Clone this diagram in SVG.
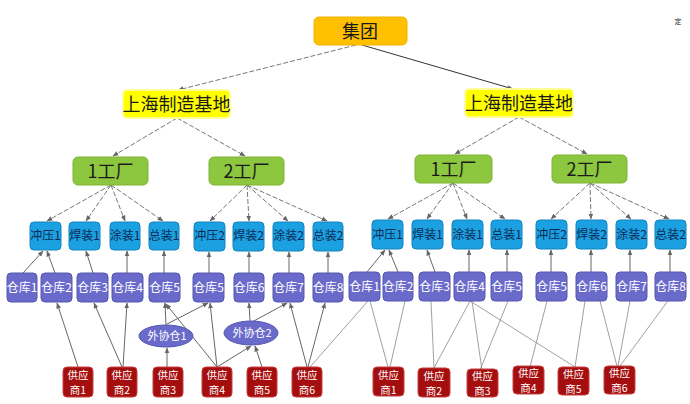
<svg xmlns="http://www.w3.org/2000/svg" width="690" height="404" viewBox="0 0 690 404">
<style>
.cjk{font-family:"Noto Sans CJK SC","Noto Sans",sans-serif}
.grp rect{fill:#FFC000;stroke:#F0B000;stroke-width:1}
.base rect{fill:#FFFF00;stroke:#FFFF99;stroke-width:2}
.fac rect{fill:#8DC63F;stroke:#7DB535;stroke-width:1}
.st rect{fill:#1BA1E2;stroke:#1383BD;stroke-width:1}
.wh rect,.wh ellipse{fill:#6A6ACB;stroke:#5656B0;stroke-width:1}
.sp rect{fill:#A50E0E;stroke:#C84040;stroke-width:1}
.t-dark{fill:#1a1a1a;text-anchor:middle}
.t-st{fill:#0D2A55;text-anchor:middle;font-size:12px}
.t-w{fill:#ffffff;text-anchor:middle;font-size:12px}
.t-s{fill:#ffffff;text-anchor:middle;font-size:11px}
.t-p{fill:#ffffff;text-anchor:middle;font-size:10.5px}
.dash{stroke:#777;stroke-width:1;fill:none;stroke-dasharray:5 2;marker-end:url(#ah)}
.sol{stroke:#666;stroke-width:1;fill:none;marker-end:url(#ah)}
.thin{stroke:#888;stroke-width:0.8;fill:none}
</style>
<defs>
<marker id="ah" viewBox="0 0 10 10" refX="9" refY="5" markerWidth="6" markerHeight="6" orient="auto" markerUnits="userSpaceOnUse">
<path d="M0,1 L10,5 L0,9 z" fill="#666"/>
</marker>
</defs>
<rect width="690" height="404" fill="#ffffff"/>

<g id="connectors">
<line class="dash" x1="356" y1="45" x2="178" y2="90"/>
<line class="sol" x1="362" y1="45" x2="513" y2="89" style="stroke:#333"/>
<line class="dash" x1="177" y1="118" x2="113" y2="156"/>
<line class="dash" x1="177" y1="118" x2="245" y2="156"/>
<line class="dash" x1="519" y1="117" x2="455" y2="154"/>
<line class="dash" x1="519" y1="117" x2="587" y2="154"/>
<line class="dash" x1="111" y1="185" x2="47" y2="221"/>
<line class="dash" x1="111" y1="185" x2="86" y2="221"/>
<line class="dash" x1="111" y1="185" x2="125" y2="221"/>
<line class="dash" x1="111" y1="185" x2="163" y2="221"/>
<line class="dash" x1="247" y1="185" x2="210" y2="221"/>
<line class="dash" x1="247" y1="185" x2="249" y2="221"/>
<line class="dash" x1="247" y1="185" x2="288" y2="221"/>
<line class="dash" x1="247" y1="185" x2="327" y2="221"/>
<line class="dash" x1="453" y1="183" x2="388" y2="219"/>
<line class="dash" x1="453" y1="183" x2="427" y2="219"/>
<line class="dash" x1="453" y1="183" x2="467" y2="219"/>
<line class="dash" x1="453" y1="183" x2="505" y2="219"/>
<line class="dash" x1="590" y1="183" x2="551" y2="219"/>
<line class="dash" x1="590" y1="183" x2="591" y2="219"/>
<line class="dash" x1="590" y1="183" x2="631" y2="219"/>
<line class="dash" x1="590" y1="183" x2="669" y2="219"/>

<line class="sol" x1="23" y1="273" x2="43" y2="251"/>
<line class="sol" x1="55" y1="273" x2="47" y2="251"/>
<line class="sol" x1="93" y1="273" x2="86" y2="251"/>
<line class="sol" x1="127" y1="273" x2="127" y2="251"/>
<line class="sol" x1="164" y1="273" x2="164" y2="251"/>
<line class="sol" x1="209" y1="273" x2="209" y2="252"/>
<line class="sol" x1="249" y1="273" x2="249" y2="252"/>
<line class="sol" x1="289" y1="273" x2="289" y2="252"/>
<line class="sol" x1="328" y1="273" x2="328" y2="252"/>
<line class="sol" x1="367" y1="272" x2="385" y2="250"/>
<line class="sol" x1="398" y1="272" x2="389" y2="250"/>
<line class="sol" x1="435" y1="272" x2="427" y2="250"/>
<line class="sol" x1="469" y1="272" x2="469" y2="250"/>
<line class="sol" x1="507" y1="272" x2="507" y2="250"/>
<line class="sol" x1="551" y1="272" x2="551" y2="250"/>
<line class="sol" x1="591" y1="272" x2="591" y2="250"/>
<line class="sol" x1="630" y1="272" x2="630" y2="250"/>
<line class="sol" x1="670" y1="272" x2="670" y2="250"/>

<line class="sol" x1="78" y1="367" x2="57" y2="303"/>
<line class="sol" x1="122" y1="367" x2="94" y2="303"/>
<line class="sol" x1="123" y1="367" x2="127" y2="303"/>
<line class="sol" x1="167" y1="367" x2="167" y2="348"/>
<line class="sol" x1="166" y1="325" x2="165" y2="303"/>
<line class="sol" x1="167" y1="324" x2="208" y2="303"/>
<line class="sol" x1="217" y1="367" x2="166" y2="304"/>
<line class="sol" x1="217" y1="367" x2="210" y2="303"/>
<line class="sol" x1="217" y1="367" x2="251" y2="346"/>
<line class="sol" x1="262" y1="367" x2="255" y2="346"/>
<line class="sol" x1="250" y1="321" x2="249" y2="303"/>
<line class="sol" x1="252" y1="322" x2="287" y2="303"/>
<line class="sol" x1="307" y1="367" x2="290" y2="303"/>
<line class="sol" x1="308" y1="367" x2="325" y2="303"/>
<line class="thin" x1="310" y1="367" x2="368" y2="301"/>

<line class="thin" x1="388" y1="367" x2="370" y2="301"/>
<line class="thin" x1="390" y1="367" x2="405" y2="301"/>
<line class="thin" x1="434" y1="368" x2="431" y2="301"/>
<line class="thin" x1="434" y1="368" x2="470" y2="301"/>
<line class="thin" x1="482" y1="370" x2="472" y2="301"/>
<line class="thin" x1="480" y1="370" x2="508" y2="301"/>
<line class="thin" x1="470" y1="301" x2="575" y2="367"/>
<line class="thin" x1="530" y1="367" x2="547" y2="301"/>
<line class="thin" x1="575" y1="367" x2="585" y2="301"/>
<line class="thin" x1="617" y1="366" x2="600" y2="301"/>
<line class="thin" x1="618" y1="366" x2="630" y2="301"/>
<line class="thin" x1="620" y1="366" x2="670" y2="298"/>
</g>

<g id="n-jituan" class="grp"><rect x="314" y="17" width="93" height="28" rx="5"/><text class="cjk t-dark" x="360" y="38" font-size="18">集团</text></g>

<g id="n-base-l" class="base"><rect x="123" y="90" width="107" height="28" rx="4"/><text class="cjk t-dark" x="176.5" y="111" font-size="18">上海制造基地</text></g>
<g id="n-base-r" class="base"><rect x="465" y="89" width="108" height="28" rx="4"/><text class="cjk t-dark" x="519" y="110" font-size="18">上海制造基地</text></g>

<g id="n-f1-l" class="fac"><rect x="73" y="157" width="75" height="28" rx="5"/><text class="cjk t-dark" x="110.5" y="178" font-size="18">1工厂</text></g>
<g id="n-f2-l" class="fac"><rect x="209" y="157" width="75" height="28" rx="5"/><text class="cjk t-dark" x="246.5" y="178" font-size="18">2工厂</text></g>
<g id="n-f1-r" class="fac"><rect x="415" y="155" width="77" height="28" rx="5"/><text class="cjk t-dark" x="453.5" y="176" font-size="18">1工厂</text></g>
<g id="n-f2-r" class="fac"><rect x="552" y="155" width="75" height="28" rx="5"/><text class="cjk t-dark" x="589.5" y="176" font-size="18">2工厂</text></g>

<g id="n-cy1-l" class="st"><rect x="30" y="222" width="31" height="28" rx="4"/><text class="cjk t-st" x="45.5" y="240">冲压1</text></g>
<g id="n-hz1-l" class="st"><rect x="69" y="222" width="31" height="28" rx="4"/><text class="cjk t-st" x="84.5" y="240">焊装1</text></g>
<g id="n-tz1-l" class="st"><rect x="110" y="222" width="30" height="28" rx="4"/><text class="cjk t-st" x="125" y="240">涂装1</text></g>
<g id="n-zz1-l" class="st"><rect x="149" y="222" width="30" height="28" rx="4"/><text class="cjk t-st" x="164" y="240">总装1</text></g>
<g id="n-cy2-l" class="st"><rect x="194" y="222" width="31" height="29" rx="4"/><text class="cjk t-st" x="209.5" y="240">冲压2</text></g>
<g id="n-hz2-l" class="st"><rect x="233" y="222" width="31" height="29" rx="4"/><text class="cjk t-st" x="248.5" y="240">焊装2</text></g>
<g id="n-tz2-l" class="st"><rect x="273" y="222" width="31" height="29" rx="4"/><text class="cjk t-st" x="288.5" y="240">涂装2</text></g>
<g id="n-zz2-l" class="st"><rect x="313" y="222" width="30" height="29" rx="4"/><text class="cjk t-st" x="328" y="240">总装2</text></g>

<g id="n-cy1-r" class="st"><rect x="372" y="220" width="31" height="29" rx="4"/><text class="cjk t-st" x="387.5" y="239">冲压1</text></g>
<g id="n-hz1-r" class="st"><rect x="412" y="220" width="31" height="29" rx="4"/><text class="cjk t-st" x="427.5" y="239">焊装1</text></g>
<g id="n-tz1-r" class="st"><rect x="452" y="220" width="31" height="29" rx="4"/><text class="cjk t-st" x="467.5" y="239">涂装1</text></g>
<g id="n-zz1-r" class="st"><rect x="491" y="220" width="31" height="29" rx="4"/><text class="cjk t-st" x="506.5" y="239">总装1</text></g>
<g id="n-cy2-r" class="st"><rect x="536" y="220" width="31" height="29" rx="4"/><text class="cjk t-st" x="551.5" y="239">冲压2</text></g>
<g id="n-hz2-r" class="st"><rect x="576" y="220" width="31" height="29" rx="4"/><text class="cjk t-st" x="591.5" y="239">焊装2</text></g>
<g id="n-tz2-r" class="st"><rect x="616" y="220" width="31" height="29" rx="4"/><text class="cjk t-st" x="631.5" y="239">涂装2</text></g>
<g id="n-zz2-r" class="st"><rect x="655" y="220" width="31" height="29" rx="4"/><text class="cjk t-st" x="670.5" y="239">总装2</text></g>

<g id="n-ck1-l" class="wh"><rect x="7" y="273" width="30" height="29" rx="4"/><text class="cjk t-w" x="22" y="292">仓库1</text></g>
<g id="n-ck2-l" class="wh"><rect x="41" y="273" width="31" height="29" rx="4"/><text class="cjk t-w" x="56.5" y="292">仓库2</text></g>
<g id="n-ck3-l" class="wh"><rect x="77" y="273" width="31" height="29" rx="4"/><text class="cjk t-w" x="92.5" y="292">仓库3</text></g>
<g id="n-ck4-l" class="wh"><rect x="112" y="273" width="31" height="29" rx="4"/><text class="cjk t-w" x="127.5" y="292">仓库4</text></g>
<g id="n-ck5-l" class="wh"><rect x="149" y="273" width="31" height="29" rx="4"/><text class="cjk t-w" x="164.5" y="292">仓库5</text></g>
<g id="n-ck5b-l" class="wh"><rect x="193" y="273" width="31" height="29" rx="4"/><text class="cjk t-w" x="208.5" y="292">仓库5</text></g>
<g id="n-ck6-l" class="wh"><rect x="234" y="273" width="30" height="29" rx="4"/><text class="cjk t-w" x="249" y="292">仓库6</text></g>
<g id="n-ck7-l" class="wh"><rect x="273" y="273" width="31" height="29" rx="4"/><text class="cjk t-w" x="288.5" y="292">仓库7</text></g>
<g id="n-ck8-l" class="wh"><rect x="313" y="273" width="30" height="29" rx="4"/><text class="cjk t-w" x="328" y="292">仓库8</text></g>

<g id="n-ck1-r" class="wh"><rect x="349" y="272" width="31" height="29" rx="4"/><text class="cjk t-w" x="364.5" y="291">仓库1</text></g>
<g id="n-ck2-r" class="wh"><rect x="383" y="272" width="30" height="29" rx="4"/><text class="cjk t-w" x="398" y="291">仓库2</text></g>
<g id="n-ck3-r" class="wh"><rect x="419" y="272" width="31" height="29" rx="4"/><text class="cjk t-w" x="434.5" y="291">仓库3</text></g>
<g id="n-ck4-r" class="wh"><rect x="454" y="272" width="31" height="29" rx="4"/><text class="cjk t-w" x="469.5" y="291">仓库4</text></g>
<g id="n-ck5-r" class="wh"><rect x="491" y="272" width="31" height="29" rx="4"/><text class="cjk t-w" x="506.5" y="291">仓库5</text></g>
<g id="n-ck5b-r" class="wh"><rect x="536" y="272" width="31" height="29" rx="4"/><text class="cjk t-w" x="551.5" y="291">仓库5</text></g>
<g id="n-ck6-r" class="wh"><rect x="576" y="272" width="31" height="29" rx="4"/><text class="cjk t-w" x="591.5" y="291">仓库6</text></g>
<g id="n-ck7-r" class="wh"><rect x="616" y="272" width="31" height="29" rx="4"/><text class="cjk t-w" x="631.5" y="291">仓库7</text></g>
<g id="n-ck8-r" class="wh"><rect x="655" y="272" width="31" height="29" rx="4"/><text class="cjk t-w" x="670.5" y="291">仓库8</text></g>

<g id="n-wx1" class="wh"><ellipse cx="166" cy="336" rx="27" ry="11"/><text class="cjk t-s" x="167" y="340">外协仓1</text></g>
<g id="n-wx2" class="wh"><ellipse cx="251" cy="333" rx="27" ry="12"/><text class="cjk t-s" x="252" y="337">外协仓2</text></g>

<g id="n-gy1-l" class="sp"><rect x="63" y="367" width="30" height="30" rx="4"/><text class="cjk t-p" x="78" y="379">供应</text><text class="cjk t-p" x="78" y="394">商1</text></g>
<g id="n-gy2-l" class="sp"><rect x="107" y="367" width="30" height="30" rx="4"/><text class="cjk t-p" x="122" y="379">供应</text><text class="cjk t-p" x="122" y="394">商2</text></g>
<g id="n-gy3-l" class="sp"><rect x="153" y="367" width="30" height="30" rx="4"/><text class="cjk t-p" x="168" y="379">供应</text><text class="cjk t-p" x="168" y="394">商3</text></g>
<g id="n-gy4-l" class="sp"><rect x="202" y="367" width="30" height="30" rx="4"/><text class="cjk t-p" x="217" y="379">供应</text><text class="cjk t-p" x="217" y="394">商4</text></g>
<g id="n-gy5-l" class="sp"><rect x="247" y="367" width="30" height="30" rx="4"/><text class="cjk t-p" x="262" y="379">供应</text><text class="cjk t-p" x="262" y="394">商5</text></g>
<g id="n-gy6-l" class="sp"><rect x="292" y="367" width="30" height="30" rx="4"/><text class="cjk t-p" x="307" y="379">供应</text><text class="cjk t-p" x="307" y="394">商6</text></g>

<g id="n-gy1-r" class="sp"><rect x="373" y="367" width="31" height="29" rx="4"/><text class="cjk t-p" x="388.5" y="378.5">供应</text><text class="cjk t-p" x="388.5" y="393.5">商1</text></g>
<g id="n-gy2-r" class="sp"><rect x="418" y="368" width="32" height="29" rx="4"/><text class="cjk t-p" x="434" y="379.5">供应</text><text class="cjk t-p" x="434" y="394.5">商2</text></g>
<g id="n-gy3-r" class="sp"><rect x="467" y="369" width="31" height="28" rx="4"/><text class="cjk t-p" x="482.5" y="380">供应</text><text class="cjk t-p" x="482.5" y="395">商3</text></g>
<g id="n-gy4-r" class="sp"><rect x="513" y="366" width="31" height="28" rx="4"/><text class="cjk t-p" x="528.5" y="377">供应</text><text class="cjk t-p" x="528.5" y="392">商4</text></g>
<g id="n-gy5-r" class="sp"><rect x="558" y="367" width="31" height="28" rx="4"/><text class="cjk t-p" x="573.5" y="378">供应</text><text class="cjk t-p" x="573.5" y="393">商5</text></g>
<g id="n-gy6-r" class="sp"><rect x="604" y="366" width="31" height="28" rx="4"/><text class="cjk t-p" x="619.5" y="377">供应</text><text class="cjk t-p" x="619.5" y="392">商6</text></g>

<text class="cjk" x="678" y="24" font-size="7" text-anchor="middle" fill="#222">定</text>
</svg>
